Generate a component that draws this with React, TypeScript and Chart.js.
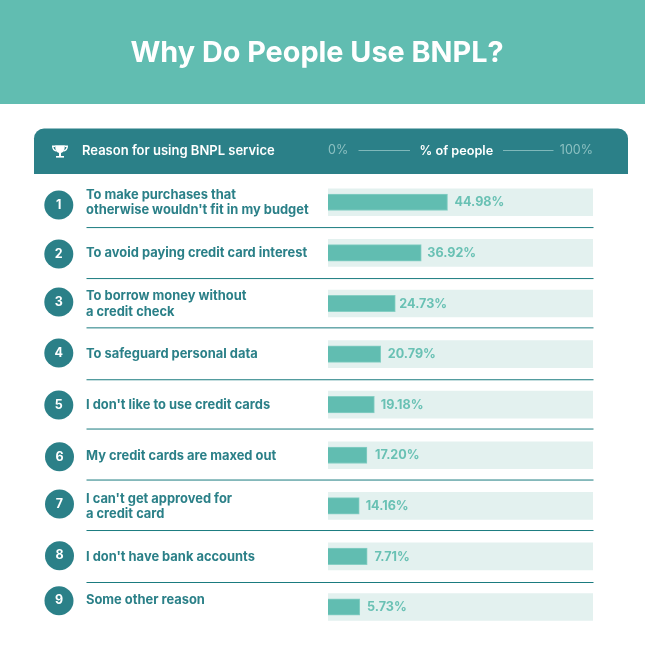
import React, { useEffect, useRef } from "react";
import { Chart, registerables } from "chart.js";

Chart.register(...registerables);

const chartTitle = "Why Do People Use BNPL?";
const headerReason = "Reason for using BNPL service";
const headerPercent = "% of people";

const reasons: (string | string[])[] = [
  ["To make purchases that", "otherwise wouldn't fit in my budget"],
  "To avoid paying credit card interest",
  ["To borrow money without", "a credit check"],
  "To safeguard personal data",
  "I don't like to use credit cards",
  "My credit cards are maxed out",
  ["I can't get approved for", "a credit card"],
  "I don't have bank accounts",
  ["Some other reason", ""],
];
// Lengths of the bars as drawn in the picture (they differ a little from the printed figures).
const barLengths = [45.1, 35.2, 25.4, 19.9, 17.5, 14.7, 11.8, 14.8, 12.0];
const printedPercents = ["44.98%", "36.92%", "24.73%", "20.79%", "19.18%", "17.20%", "14.16%", "7.71%", "5.73%"];
const trackValues = [100, 100, 100, 100, 100, 100, 100, 100, 100];
const ranks = ["1", "2", "3", "4", "5", "6", "7", "8", "9"];

const TEAL = "#2B8088";
const MINT = "#61BDB1";
const FONT = "Inter, sans-serif";

const circleOffsets = [2.8, 1.2, -1.4, -1, 0.4, 1.5, -1.8, -0.7, -6.3];
const circleX = [58.8, 58.8, 58.8, 58.8, 58.8, 59.5, 59.5, 59.5, 59];
const ruleOffsets = [0, 0.4, -0.9, 0.4, -0.9, -0.5, -0.6, 0.8];
const labelGaps = [7, 6, 4, 7, 6.4, 8, 6.4, 7.4, 7.3];

const decorPlugin = {
  id: "decor",
  beforeDraw(chart: any) {
    const c = chart.ctx as CanvasRenderingContext2D;
    c.save();
    c.fillStyle = "#fff";
    c.fillRect(0, 0, chart.width, chart.height);
    c.fillStyle = MINT;
    c.fillRect(0, 0, chart.width, 104);
    c.fillStyle = "#fff";
    c.font = `700 28.8px ${FONT}`;
    c.textAlign = "center";
    c.textBaseline = "middle";
    c.fillText(chartTitle, 317, 53);

    c.fillStyle = TEAL;
    c.beginPath();
    c.roundRect(34, 128.5, 594, 45.5, [10, 10, 0, 0]);
    c.fill();

    // trophy
    c.fillStyle = "#fff";
    c.strokeStyle = "#fff";
    c.lineWidth = 1.4;
    c.beginPath();
    c.moveTo(55, 145.2);
    c.lineTo(65, 145.2);
    c.lineTo(64.4, 149.5);
    c.quadraticCurveTo(63.5, 152.5, 61, 153);
    c.lineTo(59, 153);
    c.quadraticCurveTo(56.5, 152.5, 55.6, 149.5);
    c.closePath();
    c.fill();
    c.beginPath();
    c.moveTo(55, 146.2);
    c.lineTo(52.7, 146.2);
    c.quadraticCurveTo(52.8, 150.4, 56.5, 151);
    c.moveTo(65, 146.2);
    c.lineTo(67.3, 146.2);
    c.quadraticCurveTo(67.2, 150.4, 63.5, 151);
    c.stroke();
    c.fillRect(59, 152.5, 2, 3.5);
    c.fillRect(56, 156, 8, 1.6);

    c.textAlign = "left";
    c.fillStyle = "#fff";
    c.font = `600 13px ${FONT}`;
    c.fillText(headerReason, 82, 151.5);
    c.font = `600 12.7px ${FONT}`;
    c.fillText(headerPercent, 419.5, 151);
    c.strokeStyle = "#7FB8BA";
    c.lineWidth = 1;
    c.beginPath();
    c.moveTo(358.5, 150.5);
    c.lineTo(410, 150.5);
    c.moveTo(503, 150.5);
    c.lineTo(553.5, 150.5);
    c.stroke();
    c.restore();
  },
  afterDatasetsDraw(chart: any) {
    const c = chart.ctx as CanvasRenderingContext2D;
    const y = chart.scales.y;
    const x = chart.scales.x;
    c.save();
    c.strokeStyle = "#1A7B7F";
    c.lineWidth = 1;
    ruleOffsets.forEach((off, i) => {
      const ry = (y.getPixelForValue(i) + y.getPixelForValue(i + 1)) / 2 + off;
      c.beginPath();
      c.moveTo(86.5, ry);
      c.lineTo(593.5, ry);
      c.stroke();
    });
    c.textBaseline = "middle";
    ranks.forEach((rank, i) => {
      const cy = y.getPixelForValue(i) + circleOffsets[i];
      c.fillStyle = TEAL;
      c.beginPath();
      c.arc(circleX[i], cy, 14.5, 0, Math.PI * 2);
      c.fill();
      c.fillStyle = "#fff";
      c.textAlign = "center";
      c.font = `700 12.5px ${FONT}`;
      c.fillText(rank, circleX[i], cy);
    });
    c.textAlign = "left";
    c.font = `700 12.6px ${FONT}`;
    c.fillStyle = "#69C1B4";
    printedPercents.forEach((p, i) => {
      c.fillText(p, x.getPixelForValue(barLengths[i]) + labelGaps[i], y.getPixelForValue(i) + 0.3);
    });
    c.restore();
  },
};

export default function App() {
  const ref = useRef<HTMLCanvasElement | null>(null);
  useEffect(() => {
    if (!ref.current) return;
    const chart = new Chart(ref.current, {
      type: "bar",
      plugins: [decorPlugin],
      data: {
        labels: reasons as any,
        datasets: [
          {
            data: barLengths,
            backgroundColor: MINT,
            borderColor: "#86CFC4",
            borderWidth: 1,
            barThickness: 16.5,
            grouped: false,
            order: 1,
          },
          {
            data: trackValues,
            backgroundColor: "#E3F1EF",
            barThickness: 27,
            grouped: false,
            order: 2,
          },
        ],
      },
      options: {
        indexAxis: "y",
        responsive: false,
        animation: false,
        devicePixelRatio: 1,
        layout: { padding: { left: 86, right: 52, top: 127, bottom: 39.7 } },
        plugins: { legend: { display: false }, tooltip: { enabled: false }, title: { display: false } },
        scales: {
          x: {
            position: "top",
            min: 0,
            max: 100,
            grid: { display: false, drawTicks: false },
            border: { display: false },
            afterFit: (s: any) => {
              s.height = 50;
            },
            ticks: {
              stepSize: 100,
              maxRotation: 0,
              align: "inner",
              padding: 19,
              color: "#8CC0C2",
              font: { family: "Inter", size: 12.5, weight: "400" },
              callback: (v: any) => `${v}%`,
            },
          },
          y: {
            grid: { display: false, drawTicks: false },
            border: { display: false },
            afterFit: (s: any) => {
              s.width = 242;
            },
            ticks: {
              autoSkip: false,
              crossAlign: "far",
              labelOffset: 0.5,
              color: TEAL,
              font: { family: "Inter", size: 12.9, weight: "700", lineHeight: 1.19 },
            },
          },
        },
      } as any,
    });
    return () => chart.destroy();
  }, []);
  return (
    <div style={{ position: "fixed", left: 0, top: 0, width: 645, height: 672, background: "#fff" }}>
      <canvas ref={ref} width={645} height={672} style={{ display: "block" }} />
    </div>
  );
}
